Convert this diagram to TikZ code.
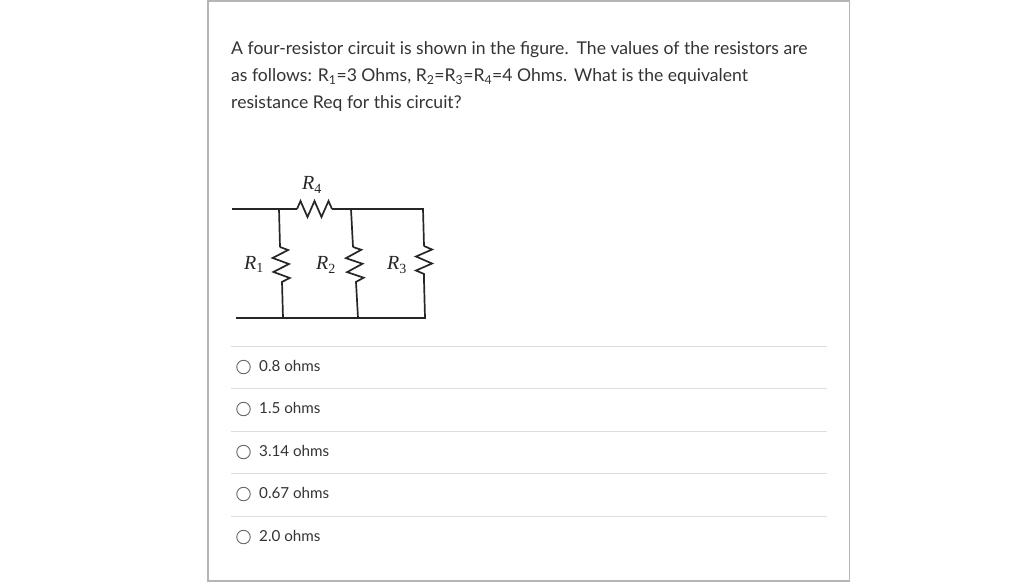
\documentclass[tikz,border=0pt]{standalone}
\usepackage{fontspec}
\setmainfont{Lato}
\newfontfamily\lblfont{Liberation Serif}
\usetikzlibrary{decorations, decorations.pathmorphing}
\definecolor{ink}{HTML}{333333}
\definecolor{frame}{HTML}{B5B5B5}
\definecolor{rule}{HTML}{DDDDDD}
\newcommand{\lblr}[1]{\textit{R}\textsubscript{#1}}
\tikzset{para/.style={anchor=base west, inner sep=0pt, text=ink, font=\fontsize{17.6}{20}\selectfont}}
\tikzset{answer/.style={anchor=base west, inner sep=0pt, text=ink, font=\fontsize{15.2}{18}\selectfont}}
\tikzset{radio/.style={circle, draw=black!60, fill=white, line width=0.9pt, minimum size=13.5pt, inner sep=0pt}}
\tikzset{wire/.style={line width=1.7pt, black!85}}
\tikzset{res/.style={wire, decorate, decoration={zigzag, segment length=14pt, amplitude=8pt}}}
\tikzset{lbl/.style={inner sep=0pt, text=black!85, font=\lblfont\fontsize{20}{22}\selectfont}}

\begin{document}
\begin{tikzpicture}[x=1pt, y=-1pt]
		\useasboundingbox (0, 0) rectangle (1024, 587);
		\draw[frame, line width=1.2pt] (208, 1) rectangle (849.5, 581);
		\node[para] (l1) at (231, 54.5) {A four-resistor circuit is shown in the figure.\hspace{2pt} The values of the resistors are};
		\node[para] (l2) at (231, 81.5) {as follows: R\textsubscript{1}=3 Ohms, R\textsubscript{2}=R\textsubscript{3}=R\textsubscript{4}=4 Ohms.\hspace{1pt} What is the equivalent};
		\node[para] (l3) at (231, 108.5) {resistance Req for this circuit?};
		% circuit
		\coordinate (in) at (232, 209);
		\coordinate (J1) at (279, 209);
		\coordinate (A4) at (297, 209);
		\coordinate (B4) at (332, 209);
		\coordinate (J2) at (351, 209);
		\coordinate (J3) at (423, 209);
		\coordinate (A1) at (280, 247);
		\coordinate (B1) at (282, 282);
		\coordinate (A2) at (353, 247);
		\coordinate (B2) at (356, 282);
		\coordinate (A3) at (424, 246);
		\coordinate (B3) at (424, 280);
		\coordinate (out) at (236, 318);
		\coordinate (K1) at (283, 318);
		\coordinate (K2) at (358, 318);
		\coordinate (K3) at (425, 318);
		\draw[wire] (in) -- (A4);
		\draw[res] (A4) -- (B4);
		\draw[wire] (B4) -- (J3) -- (A3);
		\draw[res] (A3) -- (B3);
		\draw[wire] (B3) -- (K3) -- (out);
		\foreach \a/\b/\c/\d in {J1/A1/B1/K1, J2/A2/B2/K2} {
			\draw[wire] (\a) -- (\b);
			\draw[res] (\b) -- (\c);
			\draw[wire] (\c) -- (\d);
		}
		\node[lbl] (R4) at (312, 185) {\lblr{4}};
		\node[lbl] (R1) at (254, 264) {\lblr{1}};
		\node[lbl] (R2) at (326, 265) {\lblr{2}};
		\node[lbl] (R3) at (397, 265) {\lblr{3}};
		% answers
		\foreach \y/\v/\t in {346/367/0.8 ohms, 388/409/1.5 ohms, 431/452/3.14 ohms, 473/494/0.67 ohms, 516/537/2.0 ohms} {
			\draw[rule, line width=0.9pt] (231, \y) -- (827, \y);
			\node[radio] at (243.5, \v) {};
			\node[answer] at (259, \v+4.6) {\t};
		}
	\end{tikzpicture}
\end{document}
